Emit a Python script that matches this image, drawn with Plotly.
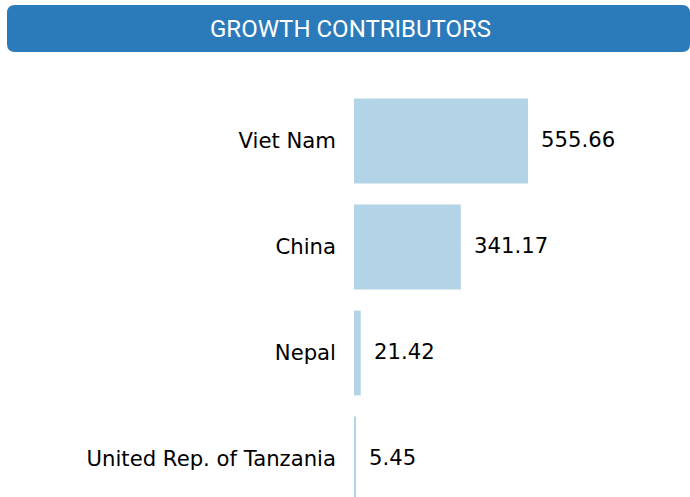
import plotly.graph_objects as go

# Countries and their growth contribution values
countries = ["Viet Nam", "China", "Nepal", "United Rep. of Tanzania"]
values = [555.66, 341.17, 21.42, 5.45]
value_labels = ["555.66", "341.17", "21.42", "5.45"]

title_text = "GROWTH CONTRIBUTORS"

W, H = 690, 497
M_L, M_R, M_T, M_B = 354, 0, 88, 0
PLOT_W = W - M_L - M_R
PLOT_H = H - M_T - M_B
FONT_SIZE = 21.2


def px_x(px):
    return (px - M_L) / PLOT_W


def px_y(py):
    return (H - M_B - py) / PLOT_H


fig = go.Figure()
fig.add_trace(go.Bar(
    x=values,
    y=countries,
    orientation="h",
    marker=dict(color="#b3d4e6", line=dict(width=0)),
    width=0.8,
    hoverinfo="skip",
))

# Value labels to the right of each bar
for c, v, t in zip(countries, values, value_labels):
    fig.add_annotation(
        x=v, y=c, text=t, showarrow=False,
        xanchor="left", yanchor="middle", xshift=11, yshift=2,
        font=dict(family="DejaVu Sans", size=FONT_SIZE, color="#000000"),
    )

# Header banner with rounded corners
x0, x1, y0, y1, r = 7, 690, 5, 52, 8
X0, X1 = px_x(x0), px_x(x1)
Y0, Y1 = px_y(y0), px_y(y1)
rx = r / PLOT_W
ry = r / PLOT_H
path = (
    f"M {X0 + rx},{Y0} L {X1 - rx},{Y0} Q {X1},{Y0} {X1},{Y0 - ry} "
    f"L {X1},{Y1 + ry} Q {X1},{Y1} {X1 - rx},{Y1} "
    f"L {X0 + rx},{Y1} Q {X0},{Y1} {X0},{Y1 + ry} "
    f"L {X0},{Y0 - ry} Q {X0},{Y0} {X0 + rx},{Y0} Z"
)
fig.add_shape(type="path", path=path, xref="paper", yref="paper",
              fillcolor="#2b7bba", line=dict(width=0), layer="above")

fig.add_annotation(
    x=px_x(350), y=px_y(29), xref="paper", yref="paper",
    text=title_text, showarrow=False, xanchor="center", yanchor="middle",
    font=dict(family="Roboto", size=24, color="white"),
)

fig.update_layout(
    width=W, height=H,
    margin=dict(l=M_L, r=M_R, t=M_T, b=M_B, pad=0),
    paper_bgcolor="white", plot_bgcolor="white",
    showlegend=False,
    xaxis=dict(range=[0, PLOT_W / 0.3131], visible=False, fixedrange=True),
    yaxis=dict(
        type="category",
        categoryorder="array", categoryarray=countries,
        range=[-0.5 + PLOT_H / 106.0, -0.5],
        showgrid=False, zeroline=False, showline=False, ticks="",
        ticklabelstandoff=17,
        tickfont=dict(family="DejaVu Sans", size=FONT_SIZE, color="#000000"),
        automargin=False, fixedrange=True,
    ),
)

fig.write_html("out.html", config={"displayModeBar": False})
